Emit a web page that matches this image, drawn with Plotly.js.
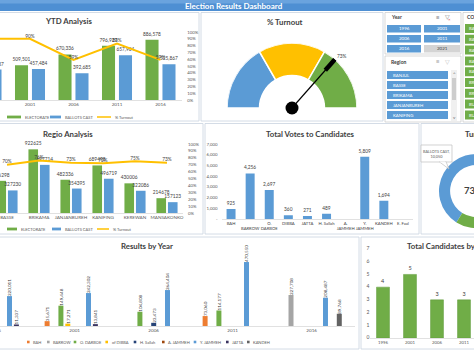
<!DOCTYPE html>
<html><head><meta charset="utf-8">
<script src="https://cdn.plot.ly/plotly-3.0.1.min.js"></script>
<style>
html,body{margin:0;padding:0;overflow:hidden;width:474px;height:355px;background:#fff}
#c{position:absolute;left:-40px;top:0;width:560px;height:355px}
</style></head>
<body><div id="c"></div>
<script>
// ---------------- DATA ----------------
const ytdYears = ['1996','2001','2006','2011','2016'];
const ytdElectorate = [498263, 509501, 670336, 796929, 886578];
const ytdBallots = [448437, 457484, 392685, 657904, 525867];
const ytdTurnout = [0.90, 0.90, 0.59, 0.83, 0.59];

const regions = ['BASSE','BRIKAMA','JANJANBUREH','KANIFING','KEREWAN','MANSAKONKO'];
const regElectorate = [466298, 922625, 482336, 689498, 430006, 214678];
const regBallots = [327230, 697714, 354395, 496719, 322086, 157123];
const regTurnout = [0.70, 0.76, 0.73, 0.72, 0.75, 0.73];

const candidates = ['BAH','BARROW','O. DARBOE','DIBBA','JATTA','H. Sallah','A. JAMMEH','Y. JAMMEH','KANDEH','E. Faal'];
const candidateTicks = ['BAH','<br>BARROW','O.<br>DARBOE','DIBBA','JATTA','H. Sallah','A.<br>JAMMEH','Y.<br>JAMMEH','KANDEH','E. Faal'];
const candidateVotes = [925, 4256, 2697, 360, 271, 489, null, 5809, 1694, null];
const voteTicks = [0,1000,2000,3000,4000,5000,6000,7000];
const voteTickText = ['-','1,000','2,000','3,000','4,000','5,000','6,000','7,000'];

const turnoutPct = 0.73;
const gaugeBandStart = [0, 33.3, 66.7];
const gaugeBandEnd = [33.3, 66.7, 100];

const donutLabels = ['BALLOTS CAST','NOT VOTED'];
const donutValues = [10050, 3717];

const resultYears = ['1996','2001','2006','2011','2016'];
const resultSeries = ['BAH','BARROW','O. DARBOE','of DIBBA','H. Sallah','A. JAMMEH','Y. JAMMEH','JATTA','KANDEH'];
const resBAH      = [21759, 35671, null, 73060, null];
const resBARROW   = [null, null, null, null, 227708];
const resDARBOE   = [141387, 149448, 104808, 114177, null];
const resDIBBA    = [null, 17271, null, null, null];
const resSALLAH   = [null, null, 23473, null, null];
const resAJAMMEH  = [null, null, null, null, null];
const resYJAMMEH  = [220011, 242302, 264404, 470550, 208487];
const resJATTA    = [11337, 13841, null, null, null];
const resKANDEH   = [null, null, null, null, 89768];

const candYears = ['1996','2001','2006','2011','2016'];
const candCounts = [4, 5, 3, 3, 3];
const candTicks = [0,1,2,3,4,5,6,7];

const yearSlicer = ['1996','2001','2006','2011','2016','2021'];
const yearSelected = [true,true,true,true,true,false];
const regionSlicer = ['BANJUL','BASSE','BRIKAMA','JANJANBUREH','KANIFING'];
const constSlicer = ['BAKAU','BANJUL CENTRAL','BANJUL NORTH','BANJUL SOUTH','BASSE','BRIKAMA NORTH','BRIKAMA SOUTH','BUNDUNGKA KUNDA','BUSUMBALA'];

// ---------------- HELPERS ----------------
const L=40, W=560, H=355;
const X=x=>(x+L)/W, Y=y=>1-y/H;
const font='Lato, "Open Sans", sans-serif';
const dark='#404040', grey='#595959';
const cBlue='#5B9BD5', cGreen='#70AD47', cYellow='#FFC000';
const resColors=['#ED7D31','#A5A5A5','#70AD47','#FFC000','#264478','#9E480E','#5B9BD5','#3B3561','#636363'];
const resValues=[resBAH,resBARROW,resDARBOE,resDIBBA,resSALLAH,resAJAMMEH,resYJAMMEH,resJATTA,resKANDEH];

const shapes=[], ann=[];
function rect(x0,y0,x1,y1,fill,line,lw,layer){
  shapes.push({type:'rect',xref:'paper',yref:'paper',x0:X(x0),x1:X(x1),y0:Y(y1),y1:Y(y0),
    fillcolor:fill||'rgba(0,0,0,0)',line:{color:line||'rgba(0,0,0,0)',width:lw||0},layer:layer||'below'});
}
function hline(x0,x1,y,color,w){
  shapes.push({type:'line',xref:'paper',yref:'paper',x0:X(x0),x1:X(x1),y0:Y(y),y1:Y(y),line:{color:color,width:w}});
}
function text(x,y,t,size,color,opts){
  ann.push(Object.assign({xref:'paper',yref:'paper',x:X(x),y:Y(y),text:t,showarrow:false,
    font:{family:font,size:size,color:color},xanchor:'center',yanchor:'middle'},opts||{}));
}
const fmt=n=>n.toLocaleString('en-US');

// ---------------- BACKGROUND / PANELS ----------------
rect(-40,0,520,11,'#4E8FD3');
rect(-40,0,520,3.5,'#6AA3DE');
text(234,5.6,'<b>Election Results Dashboard</b>',8,'#ffffff');
const pb='#C9D3DF';
rect(-5,12.5,199,121,'#fff',pb,0.8);
rect(201,12.5,383,121,'#fff',pb,0.8);
rect(-5,123.5,203,234,'#fff',pb,0.8);
rect(205,123.5,419,234,'#fff',pb,0.8);
rect(421,123.5,540,234,'#fff',pb,0.8);
rect(-5,237,359,349,'#fff',pb,0.8);
rect(361,237,540,349,'#fff',pb,0.8);

// titles
const TS=7.8;
text(68,21,'<b>YTD Analysis</b>',TS,dark);
text(285,22,'<b>% Turnout</b>',TS,dark);
text(68,134,'<b>Regio Analysis</b>',TS,dark);
text(310,134,'<b>Total Votes to Candidates</b>',TS,dark);
text(463,134,'<b>Turnout</b>',TS,dark,{xanchor:'left'});
text(147,246,'<b>Results by Year</b>',TS,dark);
text(405,246,'<b>Total Candidates by Year</b>',TS,dark,{xanchor:'left'});

// ---------------- SLICERS ----------------
rect(385,12.5,461,54,'#fff','#C8C8C8',0.7);
text(389,17,'<b>Year</b>',5,dark,{xanchor:'left'});
text(438,17,'≡',6.5,'#7F7F7F');
text(447,17,'▽',5.5,'#7F7F7F');
text(449.5,19,'×',4.5,'#E04040');
yearSlicer.forEach((yr,i)=>{
  const col=i%2, row=Math.floor(i/2);
  const x0=col?424:387, x1=col?460:421, y0=25+row*10;
  rect(x0,y0,x1,y0+7.5,yearSelected[i]?cBlue:'#D4D4D4');
  text((x0+x1)/2,y0+3.9,yr,4.5,yearSelected[i]?'#fff':dark);
});
rect(385,56,461,122,'#fff','#C8C8C8',0.7);
text(389,62,'<b>Region</b>',5,dark,{xanchor:'left'});
text(438,62,'≡',6.5,'#9F9F9F');
text(447,62,'▽',5.5,'#BFBFBF');
regionSlicer.forEach((r,i)=>{
  const y0=71+i*10;
  rect(387,y0,448,y0+8,cBlue);
  text(391,y0+4.2,r,4.3,'#fff',{xanchor:'left'});
});
rect(451,70,457,121,'#F0F0F0');
rect(452,78,456,100,'#CDCDCD');
text(454,73.5,'^',4.5,grey);
text(454,117.5,'v',4.5,grey);
rect(463,12.5,540,122,'#fff','#C8C8C8',0.7);
text(465,17,'<b>CONSTITUENCY</b>',5,dark,{xanchor:'left'});
constSlicer.forEach((c,i)=>{
  const y0=24+i*10.8;
  rect(465,y0,540,y0+9,cGreen);
  text(467,y0+4.7,c,4.3,'#fff',{xanchor:'left'});
});

// ---------------- LEGENDS ----------------
const LF=4;
function legBar(x0,x1,y,color){rect(x0,y-1.4,x1,y+1.4,color,null,0,'above');}
function legLine(x0,x1,y,color){hline(x0,x1,y,color,1.5);}
legBar(7,21,117,cGreen); text(23,117,'ELECTORATE',LF,grey,{xanchor:'left'});
legBar(50,61,117,cBlue); text(63,117,'BALLOTS CAST',LF,grey,{xanchor:'left'});
legLine(97,111,117,cYellow); text(113,117,'% Turnout',LF,grey,{xanchor:'left'});
legBar(7,17,229,cGreen); text(19,229,'ELECTORATE',LF,grey,{xanchor:'left'});
legBar(52,61,229,cBlue); text(63,229,'BALLOTS CAST',LF,grey,{xanchor:'left'});
legLine(97,109,229,cYellow); text(111,229,'% Turnout',LF,grey,{xanchor:'left'});
const resLegX=[28.3,48.3,75,106.7,135,163.3,195,227.3,248.3];
resultSeries.forEach((s,i)=>{
  rect(resLegX[i]-1.3,340.7,resLegX[i]+1.3,343.3,resColors[i],null,0,'above');
  text(resLegX[i]+3,342,s,LF,grey,{xanchor:'left'});
});

// ---------------- TRACES ----------------
const data=[];
const tf={family:font,size:4.8,color:dark};
// YTD
data.push({type:'bar',x:ytdYears,y:ytdElectorate,xaxis:'x',yaxis:'y',marker:{color:cGreen},offset:-0.345,width:0.3,
  texttemplate:'%{y:,}',textposition:'outside',constraintext:'none',textfont:tf,cliponaxis:false,hoverinfo:'skip'});
data.push({type:'bar',x:ytdYears,y:ytdBallots,xaxis:'x',yaxis:'y',marker:{color:cBlue},offset:0.045,width:0.3,
  texttemplate:'%{y:,}',textposition:'outside',constraintext:'none',textfont:tf,cliponaxis:false,hoverinfo:'skip'});
data.push({type:'scatter',mode:'lines+text',x:ytdYears,y:ytdTurnout,xaxis:'x',yaxis:'y2',line:{color:cYellow,width:2},
  texttemplate:'%{y:.0%}',textposition:'top center',textfont:tf,cliponaxis:false,hoverinfo:'skip'});
// Regio
data.push({type:'bar',x:regions,y:regElectorate,xaxis:'x3',yaxis:'y3',marker:{color:cGreen},offset:-0.33,width:0.3,
  texttemplate:'%{y:d}',textposition:'outside',constraintext:'none',textfont:tf,cliponaxis:false,hoverinfo:'skip'});
data.push({type:'bar',x:regions,y:regBallots,xaxis:'x3',yaxis:'y3',marker:{color:cBlue},offset:0.03,width:0.3,
  texttemplate:'%{y:d}',textposition:'outside',constraintext:'none',textfont:tf,cliponaxis:false,hoverinfo:'skip'});
data.push({type:'scatter',mode:'lines+text',x:regions,y:regTurnout,xaxis:'x3',yaxis:'y4',line:{color:cYellow,width:2},
  texttemplate:'%{y:.0%}',textposition:'top center',textfont:tf,cliponaxis:false,hoverinfo:'skip'});
// Total votes
data.push({type:'bar',x:candidates,y:candidateVotes,xaxis:'x5',yaxis:'y5',marker:{color:cBlue},offset:-0.235,width:0.47,
  texttemplate:'%{y:,}',textposition:'outside',constraintext:'none',textfont:tf,cliponaxis:false,hoverinfo:'skip'});
// Results by year
const slot=0.0873, bw=0.063;
resultSeries.forEach((s,i)=>{
  data.push({type:'bar',name:s,x:resultYears,y:resValues[i],xaxis:'x6',yaxis:'y6',marker:{color:resColors[i]},
    offset:(i-4)*slot-bw/2,width:bw,texttemplate:'%{y:,}',textposition:'outside',textangle:-90,constraintext:'none',
    textfont:{family:font,size:4.6,color:dark},cliponaxis:false,hoverinfo:'skip'});
});
// Total candidates
data.push({type:'bar',x:candYears,y:candCounts,xaxis:'x7',yaxis:'y7',marker:{color:cGreen,line:{color:'#5E9A3A',width:0.5}},offset:-0.24,width:0.48,
  texttemplate:'%{y}',textposition:'outside',constraintext:'none',textfont:{family:font,size:5.5,color:dark},cliponaxis:false,hoverinfo:'skip'});
// Total candidates value-axis labels, drawn as a text trace on the same y scale
data.push({type:'scatter',mode:'text',x:candTicks.map(()=>0),y:candTicks,text:candTicks.map(String),xaxis:'x8',yaxis:'y7',
  textposition:'middle left',textfont:{family:font,size:5,color:grey},cliponaxis:false,hoverinfo:'skip'});
// Gauge
data.push({type:'barpolar',subplot:'polar',r:gaugeBandStart.map(()=>1),base:gaugeBandStart.map(()=>0),
  theta:gaugeBandStart.map((s,i)=>(s+gaugeBandEnd[i])/2*1.8),width:gaugeBandStart.map((s,i)=>(gaugeBandEnd[i]-s)*1.8),
  marker:{color:[cBlue,cYellow,cGreen],line:{color:'#ffffff',width:1.5}},hoverinfo:'skip'});
const nTheta=turnoutPct*180;
data.push({type:'scatterpolar',subplot:'polar',mode:'lines',r:[-1,0.6],theta:[nTheta,nTheta],line:{color:'#000',width:1.2},cliponaxis:false,hoverinfo:'skip'});
data.push({type:'scatterpolar',subplot:'polar',mode:'lines',r:[0.55,1.0],theta:[nTheta,nTheta],line:{color:'#000',width:4.5},cliponaxis:false,hoverinfo:'skip'});
data.push({type:'scatterpolar',subplot:'polar',mode:'markers',r:[-1],theta:[0],marker:{color:'#000',size:13},cliponaxis:false,hoverinfo:'skip'});
// Donut
data.push({type:'pie',labels:donutLabels,values:donutValues,hole:0.7,sort:false,direction:'clockwise',rotation:212,
  marker:{colors:[cBlue,cGreen]},textinfo:'none',hoverinfo:'skip',showlegend:false,
  domain:{x:[X(439),X(513)],y:[Y(228),Y(154)]}});

// annotations tied to data
text(342,56,Math.round(turnoutPct*100)+'%',4.8,dark);
const donutPct=Math.round(donutValues[0]/(donutValues[0]+donutValues[1])*100);
text(473,191,'<b>'+donutPct+'%</b>',9.5,dark);
rect(421,145,452,162,'#fff','#BFBFBF',0.7,'above');
shapes.push({type:'path',xref:'paper',yref:'paper',path:`M ${X(439)} ${Y(161.6)} L ${X(446)} ${Y(161.6)} L ${X(449)} ${Y(169)} Z`,fillcolor:'#fff',line:{color:'#BFBFBF',width:0.7},layer:'above'});
hline(439.4,445.6,161.9,'#fff',1);
text(436.5,153.5,donutLabels[0]+',<br>'+fmt(donutValues[0]),3.8,grey);

// ---------------- LAYOUT ----------------
const c7y0=338, c7y1=249;
const tickF={family:font,size:4.6,color:grey};
const catAx=(dom,range,anchor,extra)=>Object.assign({domain:dom,range:range,type:'category',anchor:anchor,tickfont:tickF,
  showline:true,linecolor:'#D9D9D9',linewidth:0.8,ticks:'',tickangle:0,showgrid:false,zeroline:false,fixedrange:true},extra||{});
const pctAx=(ov,anchor)=>({overlaying:ov,side:'right',anchor:anchor,range:[0,1],tickmode:'linear',tick0:0,dtick:0.1,tickformat:'.0%',
    showgrid:false,zeroline:false,showline:false,tickfont:{family:font,size:4.3,color:grey},ticklabelstandoff:4});
const layout={
  width:W,height:H,margin:{l:0,r:0,t:0,b:0},paper_bgcolor:'#ffffff',plot_bgcolor:'rgba(0,0,0,0)',
  showlegend:false,barmode:'overlay',font:{family:font},
  xaxis:catAx([X(-35.25),X(182.25)],[-0.5,4.5],'y'),
  yaxis:{domain:[Y(100),Y(32)],range:[0,1000000],visible:false,anchor:'x',fixedrange:true},
  yaxis2:pctAx('y','x'),
  xaxis3:catAx([X(-35),X(183)],[-1.3125,5.5],'y3'),
  yaxis3:{domain:[Y(213),Y(144)],range:[0,1000000],visible:false,anchor:'x3'},
  yaxis4:pctAx('y3','x3'),
  xaxis5:catAx([X(221.5),X(412.5)],[-0.5,9.5],'y5',{tickmode:'array',tickvals:candidates,ticktext:candidateTicks,tickfont:{family:font,size:4.2,color:dark}}),
  yaxis5:{domain:[Y(219),Y(144)],range:[0,7000],anchor:'x5',tickmode:'array',tickvals:voteTicks,ticktext:voteTickText,
    showgrid:false,zeroline:false,showline:false,tickfont:{family:font,size:4.3,color:grey},ticklabelstandoff:3},
  xaxis6:catAx([X(-39.85),X(355.15)],[-0.45,4.55],'y6'),
  yaxis6:{domain:[Y(326),Y(250)],range:[0,559000],visible:false,anchor:'x6'},
  xaxis7:catAx([X(369.5),X(504.5)],[-0.5,4.5],'y7',{tickfont:{family:font,size:4.3,color:grey}}),
  yaxis7:{domain:[Y(c7y0),Y(c7y1)],range:[0,7],anchor:'x7',showticklabels:false,showgrid:false,zeroline:false,showline:false,ticks:''},
  xaxis8:{domain:[X(369.5),X(504.5)],range:[0,1],anchor:'y7',overlaying:'x7',visible:false},
  polar:{domain:{x:[X(227),X(357)],y:[Y(108),Y(43)]},sector:[0,180],hole:0,bgcolor:'rgba(0,0,0,0)',
    radialaxis:{visible:false,range:[-1,1],showgrid:false,showline:false,showticklabels:false,ticks:''},
    angularaxis:{visible:false,rotation:180,direction:'clockwise',showgrid:false,showline:false,showticklabels:false,ticks:''}},
  shapes:shapes,annotations:ann
};
Plotly.newPlot('c',data,layout,{staticPlot:true,displayModeBar:false});
</script></body></html>
